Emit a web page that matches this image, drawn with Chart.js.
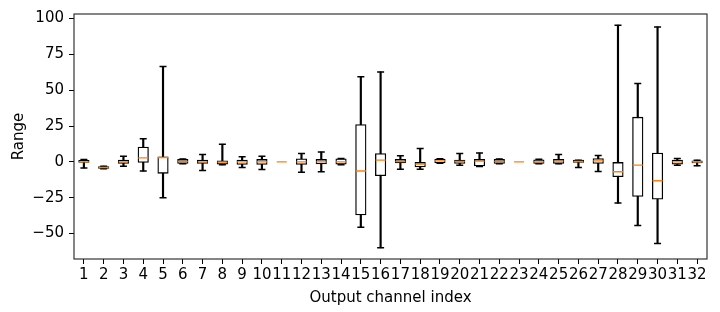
<!DOCTYPE html>
<html>
<head>
<meta charset="utf-8">
<script src="https://cdn.jsdelivr.net/npm/chart.js@4/dist/chart.umd.min.js"></script>
<style>
  html, body { margin: 0; padding: 0; background: #fff; }
  #c { display: block; }
</style>
</head>
<body>
<canvas id="c" width="720" height="312"></canvas>
<script>
const channels = ['1','2','3','4','5','6','7','8','9','10','11','12','13','14','15','16','17','18','19','20','21','22','23','24','25','26','27','28','29','30','31','32'];
const whiskerLow  = [-4.2,-4.8,-3.0,-6.4,-25,-1.3,-6.0,-2.1,-3.9,-5.3,0,-7.3,-6.9,-2.0,-45.7,-60,-5.1,-5.1,-0.9,-2.3,-3.2,-1.3,0,-1.3,-1.4,-3.9,-6.7,-28.8,-44.5,-57,-2.3,-2.8];
const quartile1   = [-0.4,-4.5,-1.1,-0.4,-8,-1.1,-1.1,-1.6,-1.8,-1.8,0,-1.8,-1.5,-1.6,-37.1,-9.7,-0.7,-3.5,-0.7,-1.1,-2.8,-1.1,0,-1.1,-1.1,-0.4,-1.1,-10.4,-24.2,-26,-1.6,-0.8];
const medians     = [0,-3.9,0,2.8,3.0,0.3,0,-0.2,0,0,0,0,0,0,-6.4,1.2,0.3,-1.6,0.7,0.3,0.5,0.3,0,0,0.5,0.3,0.7,-6.9,-2.3,-13.2,0,0];
const quartile3   = [1.0,-3.3,1.2,10.4,3.5,1.7,1.2,0.7,1.2,1.7,0,2.1,1.7,2.1,26.1,5.8,1.7,-0.4,1.9,1.2,1.7,1.7,0,1.5,1.7,1.2,2.3,-0.4,31.2,6.2,1.2,0.8];
const whiskerHigh = [1.7,-3.0,3.9,16.2,66.5,2.0,5.1,12.3,3.5,3.9,0,5.8,6.9,2.3,59.4,62.8,4.2,9.3,2.2,5.8,6.2,2.0,0,1.8,5.1,1.2,4.4,95.4,54.7,94.2,2.3,1.2];
const yTicks = [-50, -25, 0, 25, 50, 75, 100];

const FONT = "'DejaVu Sans', sans-serif";
const FS = 15;
const boxData = quartile1.map((q, i) => quartile3[i] > q ? [q, quartile3[i]] : null);
const whiskData = whiskerLow.map((w, i) => whiskerHigh[i] > w ? [w, whiskerHigh[i]] : null);
const capsLow = whiskerLow.map((w, i) => whiskerHigh[i] > w ? w : null);
const capsHigh = whiskerHigh.map((w, i) => whiskerHigh[i] > whiskerLow[i] ? w : null);

const framePlugin = {
  id: 'frame',
  afterDraw(chart) {
    const a = chart.chartArea, ctx = chart.ctx;
    ctx.save();
    ctx.strokeStyle = '#222';
    ctx.lineWidth = 1.1;
    ctx.strokeRect(a.left, a.top, a.right - a.left, a.bottom - a.top);
    ctx.restore();
  }
};

new Chart(document.getElementById('c'), {
  type: 'bar',
  data: {
    labels: channels,
    datasets: [
      { type: 'line', label: 'median', data: medians, showLine: false, pointStyle: 'line',
        pointRadius: 5, pointBorderColor: '#ff7f0e', pointBorderWidth: 1.4, borderColor: '#ff7f0e', order: 0 },
      { type: 'line', label: 'capLow', data: capsLow, showLine: false, pointStyle: 'line',
        pointRadius: 3.5, pointBorderColor: '#000', pointBorderWidth: 1.5, borderColor: '#000', order: 1 },
      { type: 'line', label: 'capHigh', data: capsHigh, showLine: false, pointStyle: 'line',
        pointRadius: 3.5, pointBorderColor: '#000', pointBorderWidth: 1.5, borderColor: '#000', order: 1 },
      { type: 'bar', label: 'box', data: boxData, backgroundColor: '#fff', borderColor: '#000',
        borderWidth: 1.3, borderSkipped: false, barThickness: 10.5, grouped: false, order: 2 },
      { type: 'bar', label: 'whisker', data: whiskData, backgroundColor: '#000', borderWidth: 0,
        barThickness: 1.5, grouped: false, order: 3 }
    ]
  },
  options: {
    responsive: false,
    animation: false,
    devicePixelRatio: 1,
    layout: { padding: { top: 13, right: 13, left: 0, bottom: 0 } },
    plugins: { legend: { display: false }, tooltip: { enabled: false } },
    scales: {
      x: {
        offset: true,
        afterFit(s) { s.height = 53; },
        grid: { display: true, drawOnChartArea: false, drawTicks: true, tickLength: 5, tickColor: '#000', offset: false, tickWidth: 1 },
        border: { display: false },
        ticks: { color: '#000', font: { family: FONT, size: FS }, padding: 2, maxRotation: 0, autoSkip: false },
        title: { display: true, text: 'Output channel index', color: '#000', font: { family: FONT, size: FS }, padding: { top: 0, bottom: 5 } }
      },
      y: {
        min: -67.8,
        max: 103.2,
        afterFit(s) { s.width = 74; },
        afterBuildTicks(axis) { axis.ticks = yTicks.map(v => ({ value: v })); },
        grid: { display: true, drawOnChartArea: false, drawTicks: true, tickLength: 5, tickColor: '#000', tickWidth: 1 },
        border: { display: false },
        ticks: { color: '#000', font: { family: FONT, size: FS }, padding: 5,
          callback: v => (v < 0 ? '\u2212' + Math.abs(v) : String(v)) },
        title: { display: true, text: 'Range', color: '#000', font: { family: FONT, size: FS }, padding: { top: 10, bottom: 0 } }
      }
    }
  },
  plugins: [framePlugin]
});
</script>
</body>
</html>
